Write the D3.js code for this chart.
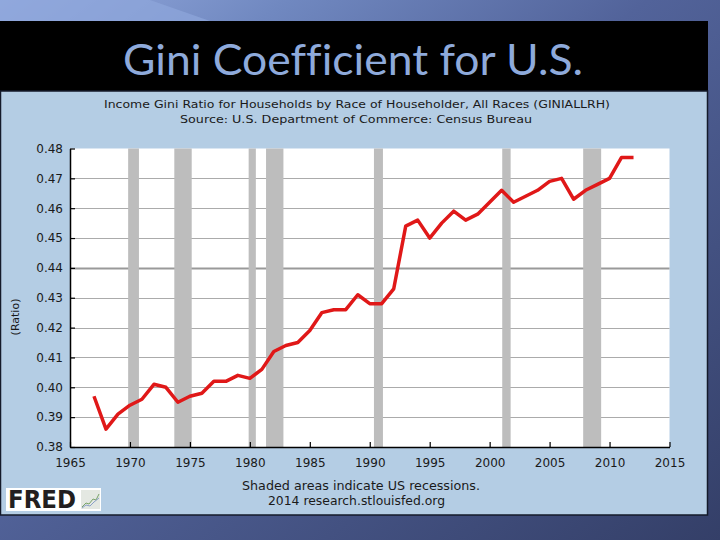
<!DOCTYPE html>
<html lang="en">
<head>
	<meta charset="utf-8">
	<title>Gini Coefficient for U.S.</title>
	<script type="text/javascript" src="https://cdn.jsdelivr.net/npm/d3@7"></script>
	<style type="text/css">
		body { margin: 0; padding: 0; background: #3a4670; }
		svg { display: block; }
	</style>
</head>
<body>
<script type="text/javascript">
	// data (GINIALLRH)
	var years = [1967,1968,1969,1970,1971,1972,1973,1974,1975,1976,1977,1978,1979,1980,
		1981,1982,1983,1984,1985,1986,1987,1988,1989,1990,1991,1992,1993,1994,1995,1996,
		1997,1998,1999,2000,2001,2002,2003,2004,2005,2006,2007,2008,2009,2010,2011,2012];
	var gini = [0.397,0.386,0.391,0.394,0.396,0.401,0.400,0.395,0.397,0.398,0.402,0.402,0.404,0.403,
		0.406,0.412,0.414,0.415,0.419,0.425,0.426,0.426,0.431,0.428,0.428,0.433,0.454,0.456,0.450,0.455,
		0.459,0.456,0.458,0.462,0.466,0.462,0.464,0.466,0.469,0.470,0.463,0.466,0.468,0.470,0.477,0.477];
	// recessions (decimal years)
	var recStart = [1969.85, 1973.7, 1979.9, 1981.35, 1990.35, 2001.05, 2007.8];
	var recEnd   = [1970.75, 1975.15, 1980.5, 1982.8, 1991.1, 2001.75, 2009.3];
	var xTicks = [1965,1970,1975,1980,1985,1990,1995,2000,2005,2010,2015];
	var yTicks = [0.38,0.39,0.40,0.41,0.42,0.43,0.44,0.45,0.46,0.47,0.48];

	var w = 720;
	var h = 540;
	var svg = d3.select("body")
		.append("svg")
		.attr("width", w)
		.attr("height", h)

	// slide background
	var defs = svg.append("defs");
	var grad = defs.append("linearGradient")
		.attr("id", "bg")
		.attr("x1", 0).attr("y1", 0)
		.attr("x2", 1).attr("y2", 1);
	grad.append("stop").attr("offset", "0").attr("stop-color", "#95abdf");
	grad.append("stop").attr("offset", "0.2").attr("stop-color", "#7088c0");
	grad.append("stop").attr("offset", "0.45").attr("stop-color", "#52639a");
	grad.append("stop").attr("offset", "1").attr("stop-color", "#343f68");
	svg.append("rect")
		.attr("width", w)
		.attr("height", h)
		.attr("fill", "url(#bg)")
	// lighter streak at top left
	svg.append("path")
		.attr("d", "M0,0 L150,0 L210,21 L0,21 Z")
		.attr("fill", "#8ea6dc")
		.attr("opacity", 0.7)

	// black title band
	svg.append("rect")
		.attr("x", 0).attr("y", 21)
		.attr("width", 708).attr("height", 70)
		.attr("fill", "#000")
	svg.append("text")
		.text("Gini Coefficient for U.S.")
		.attr("x", 123)
		.attr("y", 75)
		.attr("textLength", 460)
		.attr("lengthAdjust", "spacingAndGlyphs")
		.attr("font-family", "Lato, 'Open Sans', sans-serif")
		.attr("font-size", "42px")
		.style("font-variant-ligatures", "none")
		.attr("fill", "#8eaadb")

	// FRED panel
	svg.append("rect")
		.attr("x", 0.5).attr("y", 91)
		.attr("width", 707).attr("height", 424)
		.attr("fill", "#b4cde4")
		.attr("stroke", "#141a2a")
		.attr("stroke-width", 1.5)

	var font = "'DejaVu Sans', Verdana, sans-serif";
	svg.append("text")
		.text("Income Gini Ratio for Households by Race of Householder, All Races (GINIALLRH)")
		.attr("x", 104).attr("y", 108)
		.attr("textLength", 506)
		.attr("lengthAdjust", "spacingAndGlyphs")
		.attr("font-family", font)
		.attr("font-size", "11px")
		.attr("fill", "#1a1a1a")
	svg.append("text")
		.text("Source: U.S. Department of Commerce: Census Bureau")
		.attr("x", 180).attr("y", 123)
		.attr("textLength", 352)
		.attr("lengthAdjust", "spacingAndGlyphs")
		.attr("font-family", font)
		.attr("font-size", "11px")
		.attr("fill", "#1a1a1a")

	// scales
	var xScale = d3.scaleLinear()
		.domain([1965, 2015])
		.range([70, 669.5]);
	var yScale = d3.scaleLinear()
		.domain([0.38, 0.48])
		.range([447, 148.5]);

	// plot area
	svg.append("rect")
		.attr("x", xScale(1965))
		.attr("y", yScale(0.48))
		.attr("width", xScale(2015) - xScale(1965))
		.attr("height", yScale(0.38) - yScale(0.48))
		.attr("fill", "#fff")

	// gridlines
	svg.selectAll("line.grid")
		.data(yTicks.slice(1, -1))
		.enter()
		.append("line")
		.attr("class", "grid")
		.attr("x1", xScale(1965))
		.attr("x2", xScale(2015))
		.attr("y1", function(d){ return Math.round(yScale(d)) + 0.5 })
		.attr("y2", function(d){ return Math.round(yScale(d)) + 0.5 })
		.attr("stroke", function(d){ return d == 0.44 ? "#999" : "#ababab" })
		.attr("stroke-width", function(d){ return d == 0.44 ? 2 : 1 })

	// recession bars
	svg.selectAll("rect.rec")
		.data(recStart)
		.enter()
		.append("rect")
		.attr("class", "rec")
		.attr("x", function(d){ return xScale(d) })
		.attr("y", yScale(0.48))
		.attr("width", function(d,i){ return xScale(recEnd[i]) - xScale(d) })
		.attr("height", yScale(0.38) - yScale(0.48))
		.attr("fill", "#bdbdbd")

	// axes
	var yAxis = d3.axisLeft(yScale)
		.tickValues(yTicks)
		.tickFormat(d3.format(".2f"))
		.tickSizeInner(-5)
		.tickSizeOuter(0)
		.tickPadding(7);
	var gy = svg.append("g")
		.attr("transform", "translate(" + xScale(1965) + ",0)")
		.call(yAxis)
	var xAxis = d3.axisBottom(xScale)
		.tickValues(xTicks)
		.tickFormat(d3.format("d"))
		.tickSizeInner(-5)
		.tickSizeOuter(0)
		.tickPadding(11);
	var gx = svg.append("g")
		.attr("transform", "translate(0," + yScale(0.38) + ")")
		.call(xAxis)
	svg.selectAll(".domain")
		.attr("stroke", "#000")
		.attr("stroke-width", 1.5)
	svg.selectAll(".tick line")
		.attr("stroke", "#000")
		.attr("stroke-width", 1.2)
	svg.selectAll(".tick text")
		.attr("font-family", font)
		.attr("font-size", "12px")
		.attr("fill", "#1a1a1a")

	// the series
	var pts = years.map(function(d,i){ return [d, gini[i]] });
	var line = d3.line()
		.x(function(d){ return xScale(d[0]) })
		.y(function(d){ return yScale(d[1]) });
	svg.append("path")
		.datum(pts)
		.attr("d", line)
		.attr("fill", "none")
		.attr("stroke", "#e01818")
		.attr("stroke-width", 3.5)
		.attr("stroke-linejoin", "round")

	// y title
	svg.append("text")
		.text("(Ratio)")
		.attr("transform", "translate(19,317) rotate(-90)")
		.attr("text-anchor", "middle")
		.attr("font-family", font)
		.attr("font-size", "11px")
		.attr("fill", "#1a1a1a")

	// notes at bottom
	svg.append("text")
		.text("Shaded areas indicate US recessions.")
		.attr("x", 242).attr("y", 490)
		.attr("textLength", 238)
		.attr("lengthAdjust", "spacingAndGlyphs")
		.attr("font-family", font)
		.attr("font-size", "12px")
		.attr("fill", "#1a1a1a")
	svg.append("text")
		.text("2014 research.stlouisfed.org")
		.attr("x", 268).attr("y", 505)
		.attr("textLength", 177)
		.attr("lengthAdjust", "spacingAndGlyphs")
		.attr("font-family", font)
		.attr("font-size", "12px")
		.attr("fill", "#1a1a1a")

	// FRED logo
	var logo = svg.append("g").attr("transform", "translate(6,488)")
	logo.append("rect")
		.attr("width", 95).attr("height", 23)
		.attr("fill", "#fff")
	logo.append("text")
		.text("FRED")
		.attr("x", 2).attr("y", 20)
		.attr("textLength", 68)
		.attr("lengthAdjust", "spacingAndGlyphs")
		.attr("font-family", "'DejaVu Sans', sans-serif")
		.attr("font-weight", "bold")
		.attr("font-size", "24px")
		.attr("fill", "#231f20")
	logo.append("rect")
		.attr("x", 75).attr("y", 2)
		.attr("width", 19).attr("height", 19)
		.attr("fill", "#e4e8e2")
	logo.append("path")
		.attr("d", "M76,19 L80,15 L83,16 L87,11 L90,12 L93,6")
		.attr("fill", "none")
		.attr("stroke", "#7aa56a")
		.attr("stroke-width", 1)
	logo.append("path")
		.attr("d", "M76,20 L80,17 L84,18 L88,14 L93,10")
		.attr("fill", "none")
		.attr("stroke", "#8aa0c8")
		.attr("stroke-width", 1)
</script>
</body>
</html>
